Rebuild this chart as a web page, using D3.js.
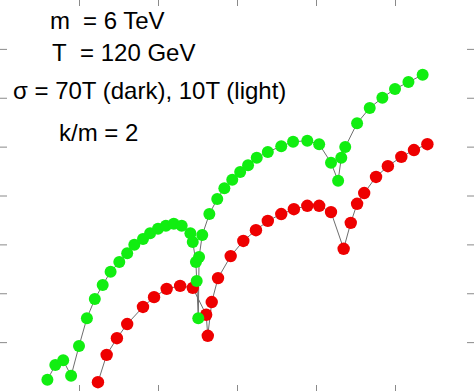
<!DOCTYPE html>
<html>
<head>
<meta charset="utf-8">
<script src="https://cdn.jsdelivr.net/npm/d3@7"></script>
<style>
  html, body { margin: 0; padding: 0; background: #fff; }
  svg { display: block; }
  text { font-family: "Liberation Sans", Arial, sans-serif; fill: #000; }
</style>
</head>
<body>
<div id="chart"></div>
<script>
// light series (green), 10T
const lightX = [0.60, 0.70, 0.80, 0.90, 1.00, 1.10, 1.20, 1.30, 1.40, 1.51, 1.61, 1.70, 1.81, 1.90,
  2.00, 2.10, 2.20, 2.30, 2.41, 2.44, 2.48, 2.49, 2.51, 2.52, 2.56, 2.65, 2.75, 2.84, 2.94,
  3.04, 3.14, 3.25, 3.39, 3.56, 3.71, 3.89, 4.04, 4.19, 4.28, 4.32, 4.37, 4.52, 4.68, 4.84,
  5.00, 5.17, 5.35];
const lightY = [0.23, 0.53, 0.63, 0.31, 0.92, 1.49, 1.88, 2.17, 2.44, 2.64, 2.82, 2.99, 3.11, 3.23,
  3.32, 3.38, 3.42, 3.38, 3.23, 3.05, 2.64, 2.25, 1.49, 2.74, 3.19, 3.62, 3.93, 4.15, 4.32,
  4.48, 4.62, 4.77, 4.89, 5.01, 5.10, 5.12, 5.05, 4.67, 4.30, 4.77, 4.99, 5.48, 5.79, 6.00,
  6.18, 6.32, 6.47];

// dark series (red), 70T
const darkX = [1.24, 1.35, 1.48, 1.61, 1.81, 1.95, 2.11, 2.28, 2.44, 2.61, 2.63, 2.68, 2.76, 2.92,
  3.08, 3.24, 3.39, 3.56, 3.72, 3.89, 4.04, 4.19, 4.35, 4.44, 4.52, 4.61, 4.76, 4.91, 5.08,
  5.24, 5.41];
const darkY = [0.18, 0.74, 1.08, 1.37, 1.72, 1.92, 2.09, 2.15, 2.11, 1.56, 1.13, 1.82, 2.31, 2.76,
  3.07, 3.29, 3.48, 3.62, 3.72, 3.79, 3.79, 3.66, 2.91, 3.44, 3.83, 4.05, 4.38, 4.60, 4.79,
  4.93, 5.05];

const xTicks = [1, 2, 3, 4, 5];
const yTicks = [1, 2, 3, 4, 5, 6, 7];

const width = 474, height = 391;

const svg = d3.select('#chart').append('svg')
  .attr('width', width)
  .attr('height', height);

const x = d3.scaleLinear().domain([0, 6]).range([0, width]);
const y = d3.scaleLinear().domain([0, 8]).range([height, 0]);

// inward ticks on all four sides, no frame line
function styleAxis(g) {
  g.select('.domain').remove();
  g.selectAll('.tick line').attr('stroke', '#8a8a8a').attr('stroke-width', 1);
  g.selectAll('.tick text').remove();
}

svg.append('g').attr('transform', 'translate(0,' + height + ')')
  .call(d3.axisBottom(x).tickValues(xTicks).tickSize(-6)).call(styleAxis);
svg.append('g')
  .call(d3.axisTop(x).tickValues(xTicks).tickSize(-6)).call(styleAxis);
svg.append('g')
  .call(d3.axisLeft(y).tickValues(yTicks).tickSize(-7)).call(styleAxis);
svg.append('g').attr('transform', 'translate(' + width + ',0)')
  .call(d3.axisRight(y).tickValues(yTicks).tickSize(-7)).call(styleAxis);

const dark = darkX.map((v, i) => ({ x: v, y: darkY[i] }));
const light = lightX.map((v, i) => ({ x: v, y: lightY[i] }));

const line = d3.line().x(d => x(d.x)).y(d => y(d.y));

[dark, light].forEach(data => {
  svg.append('path')
    .datum(data)
    .attr('d', line)
    .attr('fill', 'none')
    .attr('stroke', '#6e6e6e')
    .attr('stroke-width', 1);
});

svg.append('g').selectAll('circle')
  .data(dark)
  .enter().append('circle')
  .attr('cx', d => x(d.x))
  .attr('cy', d => y(d.y))
  .attr('r', 6.2)
  .attr('fill', '#ee0000');

svg.append('g').selectAll('circle')
  .data(light)
  .enter().append('circle')
  .attr('cx', d => x(d.x))
  .attr('cy', d => y(d.y))
  .attr('r', 6)
  .attr('fill', '#11ee11');

// annotation text
const notes = svg.append('g').attr('font-size', 24);

const t1 = notes.append('text').attr('y', 29);
t1.append('tspan').attr('x', 50).text('m');
t1.append('tspan').attr('x', 83).text('= 6 TeV');

const t2 = notes.append('text').attr('y', 61);
t2.append('tspan').attr('x', 52).text('T');
t2.append('tspan').attr('x', 80).text('= 120 GeV');

notes.append('text').attr('x', 13).attr('y', 99)
  .text('σ = 70T (dark), 10T (light)');

notes.append('text').attr('x', 59).attr('y', 141)
  .text('k/m = 2');
</script>
</body>
</html>
